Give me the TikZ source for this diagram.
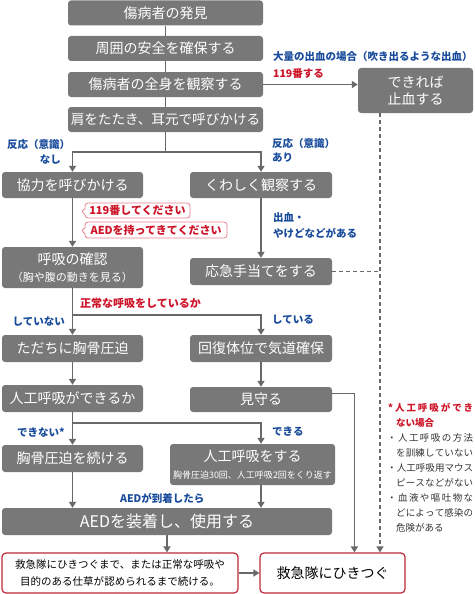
\documentclass[tikz,border=0pt]{standalone}
\usepackage{fontspec}
\setmainfont{Noto Sans CJK JP}
\usetikzlibrary{arrows.meta,shapes.callouts,calc}
\definecolor{boxgray}{RGB}{120,120,120}
\definecolor{linegray}{RGB}{105,105,105}
\definecolor{jblue}{RGB}{25,75,155}
\definecolor{jred}{RGB}{205,20,40}
\definecolor{bubblered}{RGB}{230,130,140}
\definecolor{boxred}{RGB}{190,40,55}
\definecolor{notegray}{RGB}{50,50,50}
% spread the characters of a note line over a given width
\def\notefirst#1{#1\noterest}
\def\noterest#1{\ifx\relax#1\else\hfill#1\expandafter\noterest\fi}
\newcommand\noteline[2]{\hbox to #1{\notefirst#2\relax}}
\begin{document}
\begin{tikzpicture}[x=1pt, y=-1pt,
    gbox/.style={rectangle, rounded corners=3pt, fill=boxgray, text=white, inner sep=0pt, align=center, font=\fontsize{14}{17}\selectfont},
    wbox/.style={rectangle, rounded corners=4pt, draw=boxred, line width=1.2pt, fill=white, text=black, inner sep=0pt, align=center},
    bluelbl/.style={text=jblue, inner sep=0pt, align=left, font=\fontsize{10.5}{16}\selectfont\bfseries},
    redlbl/.style={text=jred, inner sep=0pt, align=left, font=\fontsize{10.5}{16}\selectfont\bfseries},
    bubble/.style={rectangle callout, rounded corners=3pt, draw=bubblered, line width=0.8pt, fill=white, text=jred, inner sep=0pt, callout pointer width=6pt, font=\fontsize{11}{13}\selectfont\bfseries},
    notetxt/.style={text=notegray, inner sep=0pt, anchor=west, font=\fontsize{9.5}{12}\selectfont},
    conn/.style={draw=linegray, line width=1.6pt},
    arrow/.style={conn, -{Triangle[width=7pt,length=6pt]}},
    dasharrow/.style={arrow, line width=1.4pt, dash pattern=on 4pt off 3pt}
]
\useasboundingbox (0,0) rectangle (474,594);

% Top column
\node[gbox, minimum width=195pt, minimum height=25pt] (find) at (165.5,13) {傷病者の発見};
\node[gbox, minimum width=195pt, minimum height=25pt] (safe) at (165.5,48.5) {周囲の安全を確保する};
\node[gbox, minimum width=195pt, minimum height=25pt] (observe) at (165.5,84.5) {傷病者の全身を観察する};
\node[gbox, minimum width=195pt, minimum height=25pt, font=\fontsize{13.6}{16}\selectfont] (tap) at (165.5,119.5) {肩をたたき、耳元で呼びかける};
\node[gbox, minimum width=115pt, minimum height=45pt] (stop) at (415.5,90.5) {できれば\\止血する};

% Left branch
\node[gbox, minimum width=141pt, minimum height=26pt] (help) at (72.5,185) {協力を呼びかける};
\node[gbox, minimum width=141pt, minimum height=41pt] (breath) at (72.5,267.5) {呼吸の確認\\{\fontsize{11}{13}\selectfont（胸や腹の動きを見る）}};
\node[gbox, minimum width=141pt, minimum height=27pt] (cpr) at (72.5,348.5) {ただちに胸骨圧迫};
\node[gbox, minimum width=141pt, minimum height=27pt] (canrb) at (72.5,398.5) {人工呼吸ができるか};
\node[gbox, minimum width=141pt, minimum height=27pt] (cont) at (72.5,458.5) {胸骨圧迫を続ける};

% Right branch
\node[gbox, minimum width=142pt, minimum height=26pt] (detail) at (261,185) {くわしく観察する};
\node[gbox, minimum width=142pt, minimum height=27pt] (first) at (261,271.5) {応急手当てをする};
\node[gbox, minimum width=142pt, minimum height=27pt] (recov) at (261,348.5) {回復体位で気道確保};
\node[gbox, minimum width=142pt, minimum height=25pt] (watch) at (261,399.5) {見守る};
\node[gbox, minimum width=165pt, minimum height=41pt] (rb) at (252.5,464.5) {人工呼吸をする\\{\fontsize{9}{11}\selectfont 胸骨圧迫30回、人工呼吸2回をくり返す}};

% Bottom
\node[gbox, minimum width=330pt, minimum height=27pt, font=\fontsize{16}{18}\selectfont] (aed) at (167,521.5) {AEDを装着し、使用する};
\node[wbox, minimum width=236pt, minimum height=40pt, font=\fontsize{10.5}{17}\selectfont] (keep) at (120,573) {救急隊にひきつぐまで、または正常な呼吸や\\目的のある仕草が認められるまで続ける。};
\node[wbox, minimum width=145pt, minimum height=40pt, font=\fontsize{14}{17}\selectfont] (ems) at (332.5,573) {救急隊にひきつぐ};

% Callouts
\node[bubble, minimum width=105pt, minimum height=15pt, callout absolute pointer={(81,210.5)}] (call119) at (137.5,210.5) {119番してください};
\node[bubble, minimum width=142pt, minimum height=16pt, callout absolute pointer={(81,230)}] (callaed) at (156,230) {AEDを持ってきてください};

% Labels
\node[bluelbl, anchor=west] (bleed) at (273,57) {大量の出血の場合（吹き出るような出血）};
\node[redlbl, anchor=west] (call) at (273,74) {119番する};
\node[bluelbl, anchor=west] (noresp) at (7,145) {反応（意識）};
\node[bluelbl, anchor=east] (nashi) at (61,160) {なし};
\node[bluelbl, anchor=west] (resp) at (272,144) {反応（意識）};
\node[bluelbl, anchor=west] (ari) at (272,158) {あり};
\node[bluelbl, anchor=west] (burn) at (273,225) {出血・\\やけどなどがある};
\node[redlbl, anchor=west, font=\fontsize{11}{13}\selectfont\bfseries] (normq) at (80,303) {正常な呼吸をしているか};
\node[bluelbl, anchor=east] (notbr) at (65,322) {していない};
\node[bluelbl, anchor=west] (yesbr) at (272,320) {している};
\node[bluelbl, anchor=east] (cannot) at (65,433) {できない*};
\node[bluelbl, anchor=west] (can) at (272,432) {できる};
\node[bluelbl, anchor=west] (arrive) at (120,498) {AEDが到着したら};

% Note
\node[notetxt, text=jred, font=\fontsize{9.5}{12}\selectfont\bfseries] (n1) at (388,408) {\noteline{85pt}{*人工呼吸ができ}};
\node[notetxt, text=jred, font=\fontsize{9.5}{12}\selectfont\bfseries] (n2) at (396,423) {ない場合};
\node[notetxt] (n3) at (387,438) {\noteline{86pt}{・人工呼吸の方法}};
\node[notetxt] (n4) at (396,453) {\noteline{77pt}{を訓練していない}};
\node[notetxt] (n5) at (387,468) {\noteline{86pt}{・人工呼吸用マウス}};
\node[notetxt] (n6) at (396,483) {\noteline{77pt}{ピースなどがない}};
\node[notetxt] (n7) at (387,498) {\noteline{86pt}{・血液や嘔吐物な}};
\node[notetxt] (n8) at (396,513) {\noteline{77pt}{どによって感染の}};
\node[notetxt] (n9) at (396,528) {危険がある};

% Connectors
\coordinate (split1) at (165.5,152);
\coordinate (split2) at (72.5,315);
\coordinate (split3) at (72.5,423);
\coordinate (dtop) at (380,113);

\draw[conn] (find) -- (safe);
\draw[conn] (safe) -- (observe);
\draw[conn] (observe) -- (tap);
\draw[arrow] (observe.east) -- (observe.east -| stop.west);
\draw[conn] (tap.south) -- (split1);
\draw[arrow] (split1) -| (help.north);
\draw[arrow] (split1) -| (detail.north);
\draw[arrow] (help.south) -- (breath.north);
\draw[arrow] (detail.south) -- (first.north);
\draw[arrow] (breath.south) -- (cpr.north);
\draw[arrow] (split2) -| (recov.north);
\draw[arrow] (cpr.south) -- (canrb.north);
\draw[arrow] (recov.south) -- (watch.north);
\draw[arrow] (canrb.south) -- (cont.north);
\draw[arrow] (split3) -| (rb.north -| detail.north);
\draw[arrow] (cont.south) -- (cont.south |- aed.north);
\draw[arrow] (rb.south -| detail.south) -- (detail.south |- aed.north);
\draw[arrow] (aed.south) -- (aed.south |- keep.north);
\draw[arrow] (keep.east) -- (ems.west);
\draw[arrow] ([yshift=6pt]watch.east) -| ($(ems.north west)+(95,0)$);
\draw[dasharrow] (dtop) -- (dtop |- ems.north);
\draw[conn, line width=1.4pt, dash pattern=on 4pt off 3pt] (first.east) -- (first.east -| dtop);

\end{tikzpicture}
\end{document}
